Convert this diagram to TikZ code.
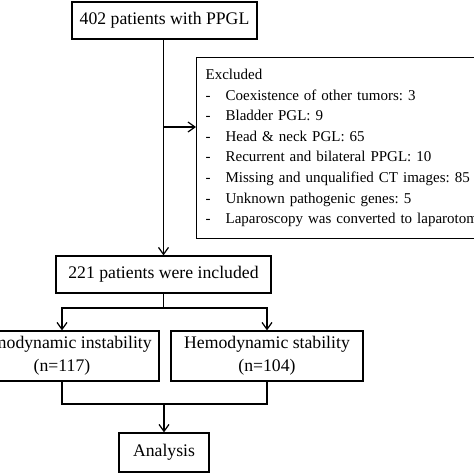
\documentclass[tikz,border=0pt]{standalone}
\usepackage{fontspec}
\setmainfont{Liberation Serif}
\usetikzlibrary{arrows.meta}
\frenchspacing
\begin{document}
\begin{tikzpicture}[x=1pt,y=-1pt,
  box/.style={draw, line width=1.2pt, inner sep=0pt, align=center,
    font=\fontsize{17.7}{23}\selectfont},
  listbox/.style={draw, line width=1.2pt, anchor=north west, align=left,
    inner xsep=9pt, inner ysep=0pt, text width=330pt, minimum height=181pt,
    font=\fontsize{15}{20.6}\selectfont},
  conn/.style={line width=1.2pt},
  arr/.style={conn, -{Straight Barb[length=7pt,width=10pt,line width=1.2pt]}}]
\path[use as bounding box, clip] (0,0) rectangle (474,474);
\node[box, minimum width=185pt, minimum height=37pt] (top) at (164.5,20.5) {402 patients with PPGL};
\node[listbox] (excl) at (196,57) {Excluded\\
\makebox[20pt][l]{-}Coexistence of other tumors: 3\\
\makebox[20pt][l]{-}Bladder PGL: 9\\
\makebox[20pt][l]{-}Head \& neck PGL: 65\\
\makebox[20pt][l]{-}Recurrent and bilateral PPGL: 10\\
\makebox[20pt][l]{-}Missing and unqualified CT images: 85\\
\makebox[20pt][l]{-}Unknown pathogenic genes: 5\\
\makebox[20pt][l]{-}Laparoscopy was converted to laparotomy: 4};
\node[box, minimum width=215pt, minimum height=37pt] (incl) at (163.5,274.5) {221 patients were included};
\node[box, minimum width=194pt, minimum height=50pt] (left) at (62,356) {Hemodynamic instability\\(n=117)};
\node[box, minimum width=192pt, minimum height=50pt] (right) at (267,356) {Hemodynamic stability\\(n=104)};
\node[box, minimum width=90pt, minimum height=39pt] (ana) at (164,452.5) {Analysis};
\draw[arr] (top.south -| incl.north) -- (incl.north);
\coordinate (br) at (incl.north |- 0,127);
\draw[arr] (br) -- (br -| excl.west);
\coordinate (sp) at (incl.south |- 0,308);
\draw[conn] (incl.south) -- (sp);
\draw[arr] (sp) -| (left.north);
\draw[arr] (sp) -| (right.north);
\coordinate (m) at (ana.north |- 0,404);
\draw[conn] (left.south) |- (m) -| (right.south);
\draw[arr] (m) -- (ana.north);
\end{tikzpicture}
\end{document}
